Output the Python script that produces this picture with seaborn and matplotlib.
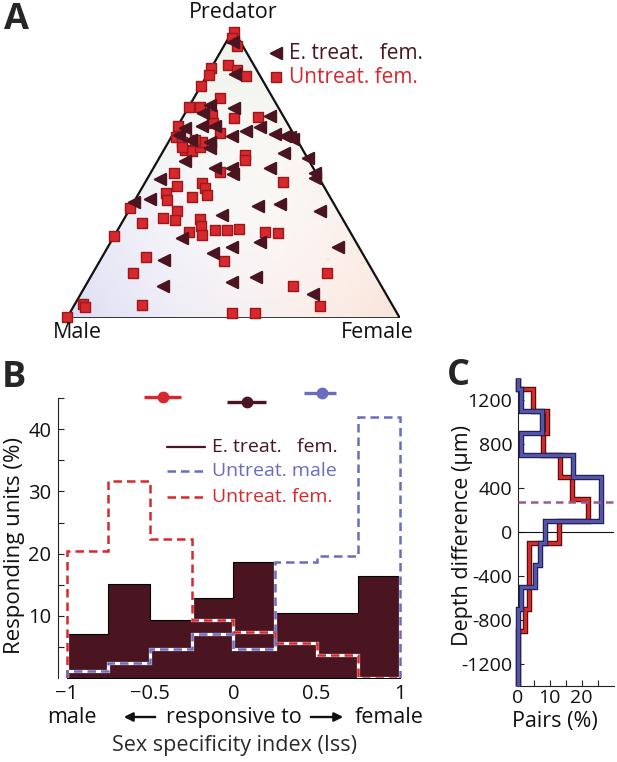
import numpy as np
import matplotlib
matplotlib.use("Agg")
import matplotlib.pyplot as plt
import matplotlib.patheffects as pe
from matplotlib.patches import Polygon, FancyArrowPatch
import seaborn as sns

# ---------------- Panel A: ternary responses (%), male = 100 - pred - fem
etreat_pred = [95.8, 84.6, 73.9, 71.2, 73.0, 69.9, 66.6, 66.6, 65.8, 63.5,
               61.8, 60.9, 58.9, 63.2, 64.9, 66.1, 63.7, 63.2, 62.9, 62.0,
               57.4, 54.6, 55.4, 52.0, 52.0, 50.0, 52.0, 50.5, 48.5, 48.2,
               40.4, 41.2, 39.0, 39.6, 37.3, 35.8, 27.7, 26.6, 24.8, 22.5,
               24.6, 20.2, 11.3, 12.5, 14.2, 8.4]
etreat_fem = [2.1, 8.2, 6.0, 5.4, 13.8, 26.1, 7.2, 11.2, 2.6, 2.0,
              6.3, 12.4, 13.6, 17.9, 21.4, 24.8, 30.6, 33.9, 35.5, 37.0,
              36.6, 8.2, 44.8, 18.5, 23.5, 25.0, 35.0, 49.3, 50.3, 3.9,
              0.0, 4.4, 38.0, 44.2, 57.4, 28.6, 20.6, 44.7, 37.1, 32.7,
              69.2, 19.2, 23.1, 43.3, 49.7, 69.8]
untreat_pred = [99.3, 97.2, 94.3, 87.8, 86.0, 84.1, 86.6, 84.3, 80.5, 76.2,
                73.1, 73.1, 70.4, 67.8, 69.5, 69.6, 66.6, 64.3, 62.9, 60.9,
                58.3, 58.1, 59.5, 61.2, 61.8, 59.5, 56.6, 54.8, 50.2, 50.6,
                45.8, 47.0, 45.3, 42.7, 43.3, 41.0, 42.1, 47.3, 38.1, 37.2,
                34.1, 34.6, 32.9, 34.4, 31.8, 28.9, 29.8, 30.6, 30.6, 30.8,
                30.0, 29.4, 28.5, 21.4, 20.0, 15.6, 15.8, 11.2, 5.0, 3.8,
                4.6, 4.3, 0.3, 1.7, 1.7]
untreat_fem = [0.4, 1.1, 4.0, 4.6, 8.2, 11.8, 0.0, 0.4, 0.0, 7.9,
               0.0, 3.5, 8.3, 9.9, 15.5, 22.5, 0.0, 13.8, 1.3, 4.1,
               6.3, 8.5, 10.3, 9.9, 7.6, 4.8, 25.2, 26.1, 7.2, 20.7,
               10.1, 17.0, 18.9, 20.6, 8.1, 9.7, 16.4, 41.3, 0.0, 14.4,
               15.5, 11.7, 6.0, 22.8, 24.3, 26.1, 21.8, 29.2, 32.7, 36.2,
               44.5, 48.8, 0.0, 13.1, 37.2, 12.0, 70.3, 62.4, 2.5, 3.6,
               20.2, 73.9, 0.0, 48.8, 55.6]
corner_labels = ["Male", "Female", "Predator"]
group_labels = ["E. treat.   fem.", "Untreat. fem."]

# ---------------- Panel B: Iss histograms (% of responding units)
iss_edges = [-1.0, -0.75, -0.5, -0.25, 0.0, 0.25, 0.5, 0.75, 1.0]
etreat_hist = [7.1, 15.2, 9.4, 12.9, 18.7, 10.4, 10.4, 16.4]
untreat_male_hist = [1.2, 2.4, 4.7, 7.1, 4.7, 18.6, 19.7, 41.9]
untreat_fem_hist = [20.5, 31.6, 22.3, 9.4, 7.5, 5.6, 3.7, 0.0]
hist_labels = ["E. treat.   fem.", "Untreat. male", "Untreat. fem."]
mean_iss = [-0.424, 0.08, 0.53]          # untreat fem, e-treat fem, untreat male
mean_lo = [-0.536, -0.04, 0.424]
mean_hi = [-0.316, 0.194, 0.616]
mean_y = [45.2, 44.4, 45.8]
iss_ticks = [-1, -0.5, 0, 0.5, 1]
iss_ticklabels = ["\u22121", "\u22120.5", "0", "0.5", "1"]

# ---------------- Panel C: depth difference histograms (% of pairs)
depth_edges = [-1400, -1300, -1100, -900, -700, -500, -300, -100, 100,
               300, 500, 700, 900, 1100, 1300, 1400]
pairs_red = [0, 0, 0, 2.3, 3.6, 3.6, 3.6, 13.0, 22.1, 16.9, 13.2, 7.8, 9.1, 4.9, 0]
pairs_blue = [0, 0, 0, 0, 0.9, 5.4, 7.0, 8.5, 25.9, 25.9, 17.2, 0.9, 7.5, 0.9, 0]
depth_mean = 270
depth_ticks = [-1200, -800, -400, 0, 400, 800, 1200]
pairs_ticks = [0, 5, 10, 15, 20, 25]

# ---------------- style
sns.set_theme(style="white")
plt.rcParams['font.family'] = ['Open Sans', 'DejaVu Sans']
plt.rcParams['axes.unicode_minus'] = True

DARK = '#4a1520'
RED = '#d6282e'
BLUE = '#6a6cc0'
TXT = '#111111'

W, H = 617, 762
fig = plt.figure(figsize=(W / 100, H / 100), dpi=100)


def rect(l, t, r, b):
    return [l / W, 1 - b / H, (r - l) / W, (b - t) / H]


def fx(px):
    return px / W


def fy(py):
    return 1 - py / H


# =============== Panel A
axA = fig.add_axes(rect(66.7, 29.6, 400, 318.3))
axA.set_xlim(0, 1)
axA.set_ylim(0, np.sqrt(3) / 2)
axA.axis('off')

n = 300
gx, gy = np.meshgrid(np.linspace(0, 1, n), np.linspace(0, np.sqrt(3) / 2, n))
p = gy / (np.sqrt(3) / 2)
f = gx - p / 2
m = 1 - p - f
wts = [np.clip(m, 0, 1), np.clip(f, 0, 1), np.clip(p, 0, 1)]
tints = [np.array([0.14, 0.14, 0.05]), np.array([0.02, 0.11, 0.15]),
         np.array([0.07, 0.05, 0.09])]
img = np.ones((n, n, 3))
for w_, t_ in zip(wts, tints):
    img -= (w_ ** 2)[..., None] * t_
img = np.clip(img, 0, 1)
im = axA.imshow(img, extent=[0, 1, 0, np.sqrt(3) / 2], origin='lower',
                aspect='auto', zorder=0)
tri = Polygon([[0, 0], [1, 0], [0.5, np.sqrt(3) / 2]], closed=True,
              fc='none', ec='#111111', lw=1.6, zorder=1, joinstyle='miter')
axA.add_patch(tri)
im.set_clip_path(tri)


def tern_xy(pred, fem):
    pred = np.asarray(pred) / 100
    fem = np.asarray(fem) / 100
    return fem + pred / 2, pred * np.sqrt(3) / 2


SQ_S, TR_S = 58, 66
ux, uy = tern_xy(untreat_pred, untreat_fem)
ex, ey = tern_xy(etreat_pred, etreat_fem)
sns.scatterplot(x=ux, y=uy, ax=axA, marker='s', s=SQ_S, color=RED,
                edgecolor='#9a1818', linewidth=1.0, clip_on=False, zorder=3,
                legend=False)
axA.collections[-1].set_joinstyle('round')
sns.scatterplot(x=ex, y=ey, ax=axA, marker='<', s=TR_S, color=DARK,
                edgecolor=DARK, linewidth=1.5, clip_on=False, zorder=4,
                legend=False)
axA.collections[-1].set_joinstyle('round')

# legend of A
axA.scatter([0.628], [0.795], marker='<', s=TR_S, color=DARK, edgecolor=DARK,
            linewidth=1.5, clip_on=False, zorder=5).set_joinstyle('round')
axA.scatter([0.628], [0.723], marker='s', s=SQ_S, color=RED, edgecolor='#9a1818',
            linewidth=1.0, clip_on=False, zorder=5).set_joinstyle('round')
axA.text(0.668, 0.795, group_labels[0], color=DARK, fontsize=15,
         va='center', ha='left')
axA.text(0.668, 0.723, group_labels[1], color=RED, fontsize=15,
         va='center', ha='left')

fig.text(fx(233), fy(13), corner_labels[2], fontsize=15.5, ha='center', va='center', color=TXT)
fig.text(fx(77), fy(333), corner_labels[0], fontsize=15.5, ha='center', va='center', color=TXT)
fig.text(fx(377), fy(333), corner_labels[1], fontsize=15.5, ha='center', va='center', color=TXT)
fig.text(fx(16), fy(20), "A", fontsize=26, fontweight='bold', ha='center', va='center')

# =============== Panel B
axB = fig.add_axes(rect(58.3, 397.9, 406.7, 678.3))
iss_centers = [(a + b) / 2 for a, b in zip(iss_edges[:-1], iss_edges[1:])]
sns.histplot(x=iss_centers, weights=etreat_hist, bins=iss_edges,
             element='step', fill=True, color=DARK, edgecolor='black',
             linewidth=0.8, alpha=1, ax=axB, zorder=1)
for vals, col in [(untreat_fem_hist, RED), (untreat_male_hist, BLUE)]:
    axB.stairs(vals, iss_edges, baseline=0, color='white', lw=2.3, zorder=2)
    axB.stairs(vals, iss_edges, baseline=0, color=col, lw=1.8,
               linestyle=(0, (3.4, 2.0)), zorder=3)

for xm, lo, hi, yy, col in zip(mean_iss, mean_lo, mean_hi, mean_y,
                               [RED, DARK, BLUE]):
    axB.plot([lo, hi], [yy, yy], color=col, lw=2.4, clip_on=False,
             solid_capstyle='butt')
    axB.plot([xm], [yy], 'o', color=col, ms=7.5, clip_on=False)

# legend of B
leg_y = [37.2, 33.2, 29.1]
leg_style = [(DARK, '-', 1.6), (BLUE, (0, (3.4, 2.0)), 1.8), (RED, (0, (3.4, 2.0)), 1.8)]
for lab, yy, (col, ls, lw) in zip(hist_labels, leg_y, leg_style):
    axB.plot([-0.4, -0.17], [yy, yy], color=col, linestyle=ls, lw=lw)
    axB.text(-0.125, yy, lab, color=col, fontsize=14, va='center', ha='left')

axB.set_xlim(-1.05, 1.04)
axB.set_ylim(0, 45)
axB.set_yticks(list(range(5, 46, 5)))
axB.set_yticklabels(['' if v % 10 else str(v) for v in range(5, 46, 5)])
axB.set_xticks(iss_ticks)
axB.set_xticklabels(iss_ticklabels)
axB.tick_params(axis='y', direction='in', length=4, width=0.8, color='#222',
                labelsize=14.5, pad=5, left=True, labelcolor=TXT)
axB.tick_params(axis='x', length=0, labelsize=14.5, pad=4, labelcolor=TXT)
for s in ['top', 'right', 'bottom']:
    axB.spines[s].set_visible(False)
axB.spines['left'].set_color('#222')
axB.spines['left'].set_linewidth(0.8)
axB.set_xlabel('')
axB.set_ylabel('')
axB.set_facecolor('none')

fig.text(fx(15), fy(545), "Responding units (%)", rotation=90, fontsize=16,
         ha='center', va='center', color=TXT)
fig.text(fx(72), fy(723), "male", fontsize=15.5, ha='center', va='baseline', color=TXT)
fig.text(fx(233.5), fy(723), "responsive to", fontsize=15.5, ha='center', va='baseline', color=TXT)
fig.text(fx(389), fy(723), "female", fontsize=15.5, ha='center', va='baseline', color=TXT)
fig.text(fx(235), fy(751), "Sex specificity index (Iss)", fontsize=15.5,
         ha='center', va='baseline', color='#2a2a2a')
for x0, x1 in [(158, 121), (308, 346)]:
    fig.add_artist(FancyArrowPatch(
        (fx(x0), fy(717)), (fx(x1), fy(717)), transform=fig.transFigure,
        arrowstyle='-|>', mutation_scale=13, lw=1.7, color=TXT))
fig.text(fx(14), fy(378), "B", fontsize=26, fontweight='bold', ha='center', va='center')

# =============== Panel C
axC = fig.add_axes(rect(517.7, 378, 613.7, 686))
for vals, col, edge in [(pairs_red, '#d42a2a', '#4a0c0c'), (pairs_blue, '#5454aa', '#1e1e4e')]:
    axC.stairs(vals, depth_edges, orientation='horizontal', baseline=None,
               color=col, lw=2.3, clip_on=False, zorder=3,
               path_effects=[pe.Stroke(linewidth=3.9, foreground=edge), pe.Normal()])
axC.axhline(0, color='#111', lw=0.8, zorder=1)
axC.axhline(depth_mean, color='#9a5c90', lw=1.8, linestyle=(0, (3.0, 2.0)), zorder=4)
axC.set_xlim(0, 30)
axC.set_ylim(-1400, 1400)
axC.set_yticks(depth_ticks)
axC.set_yticklabels([str(v) for v in depth_ticks])
axC.set_xticks(pairs_ticks)
axC.set_xticklabels(['' if v % 10 else str(v) for v in pairs_ticks])
axC.tick_params(axis='both', direction='in', length=4, width=0.8, color='#222',
                labelsize=14, left=True, bottom=True, labelcolor=TXT)
axC.tick_params(axis='y', pad=4)
axC.tick_params(axis='x', pad=2)
for s in ['top', 'right']:
    axC.spines[s].set_visible(False)
for s in ['left', 'bottom']:
    axC.spines[s].set_color('#222')
    axC.spines[s].set_linewidth(0.8)
axC.set_facecolor('none')
fig.text(fx(463), fy(535), "Depth difference (\u00b5m)", rotation=90, fontsize=15.5,
         ha='center', va='center', color=TXT)
fig.text(fx(555), fy(727), "Pairs (%)", fontsize=15.5, ha='center', va='baseline', color=TXT)
fig.text(fx(458), fy(376), "C", fontsize=26, fontweight='bold', ha='center', va='center')

fig.savefig("out.png", dpi=100)
